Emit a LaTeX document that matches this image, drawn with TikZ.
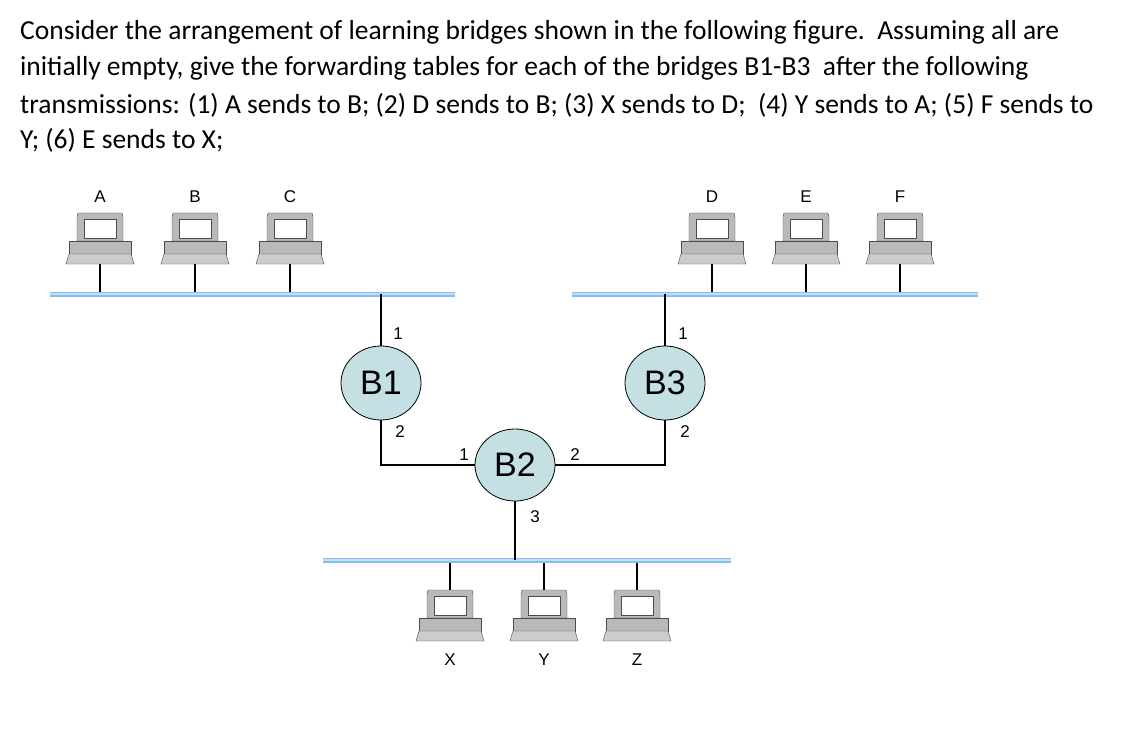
\documentclass[tikz,border=0pt]{standalone}
\usepackage{fontspec}
\usetikzlibrary{shapes.geometric}
\setmainfont{Liberation Sans}
\newfontfamily\myCal{Carlito}
\definecolor{brfill}{HTML}{C5E0E3}
\begin{document}
\begin{tikzpicture}[x=1pt,y=-1pt,
  br/.style={ellipse,draw=black,thick,fill=brfill,minimum width=80,minimum height=74,inner sep=0,font=\fontsize{34}{34}\selectfont},
  lbl/.style={font=\fontsize{17}{17}\selectfont,inner sep=0},
  port/.style={font=\fontsize{17}{17}\selectfont,inner sep=0},
  wire/.style={line width=1.2pt,black},
  txt/.style={anchor=west,inner sep=0,font=\myCal\fontsize{27.5}{27.5}\selectfont}]
\useasboundingbox (0,0) rectangle (1132,738);
\newcommand\lan[3]{%
  \fill[cyan!50!blue!40] (#1,#3-2.5) rectangle (#2,#3+2.5);
  \fill[white!70!cyan] (#1,#3-0.6) rectangle (#2,#3+0.6);}
\newcommand\pc[3]{% x, top y, name
  \begin{scope}[shift={(#1,#2)}]
  \draw[gray!60!black,fill=gray!55] (-22,0) -- (22,0) -- (23,4) -- (23,28) -- (-23,28) -- (-23,4) -- cycle;
  \draw[gray!60!black,fill=white] (-16,6) rectangle (16,25);
  \draw[gray!60!black,fill=gray!55] (-31,28) rectangle (31,41);
  \draw[gray!60!black,fill=gray!40] (-31,41) -- (31,41) -- (34,51) -- (-34,51) -- cycle;
  \coordinate (#3top) at (0,0);
  \coordinate (#3bot) at (0,51);
  \end{scope}}
\node[txt] (t1) at (20,32) {Consider the arrangement of learning bridges shown in the following figure.\ \ Assuming all are};
\node[txt] (t2) at (20,68) {initially empty, give the forwarding tables for each of the bridges B1-B3\ \ after the following};
\node[txt] (t3) at (20,105) {transmissions: (1) A sends to B; (2) D sends to B; (3) X sends to D;\ \ (4) Y sends to A; (5) F sends to};
\node[txt] (t4) at (20,140) {Y; (6) E sends to X;};
% LANs
\coordinate (L1) at (381,294); \coordinate (L3) at (665,294); \coordinate (L2) at (515,560);
\foreach \x/\n in {100/A,195/B,290/C,712/D,806/E,900/F}{
  \pc{\x}{213}{\n}
  \draw[wire] (\n bot) -- (\x,294);
  \node[lbl] (l\n) at (\x,197) {\n};}
\foreach \x/\n in {450/X,544/Y,637/Z}{
  \pc{\x}{590}{\n}
  \draw[wire] (\n top) -- (\x,560);
  \node[lbl] (l\n) at (\x,660) {\n};}
\lan{50}{455}{294}
\lan{572}{978}{294}
\lan{323}{731}{560}
\node[br] (B1) at (381,383) {B1};
\node[br] (B3) at (665,383) {B3};
\node[br,minimum height=72] (B2) at (515,465) {B2};
\draw[wire] (L1) -- (B1.north);
\draw[wire] (L3) -- (B3.north);
\draw[wire] (B1.south) |- (B2.west);
\draw[wire] (B3.south) |- (B2.east);
\draw[wire] (B2.south) -- (L2);
\node[port] (p11) at (398,334) {1};
\node[port] (p12) at (400,432) {2};
\node[port] (p21) at (464,455) {1};
\node[port] (p22) at (575,455) {2};
\node[port] (p23) at (535,517) {3};
\node[port] (p31) at (683,334) {1};
\node[port] (p32) at (685,432) {2};
\end{tikzpicture}
\end{document}
